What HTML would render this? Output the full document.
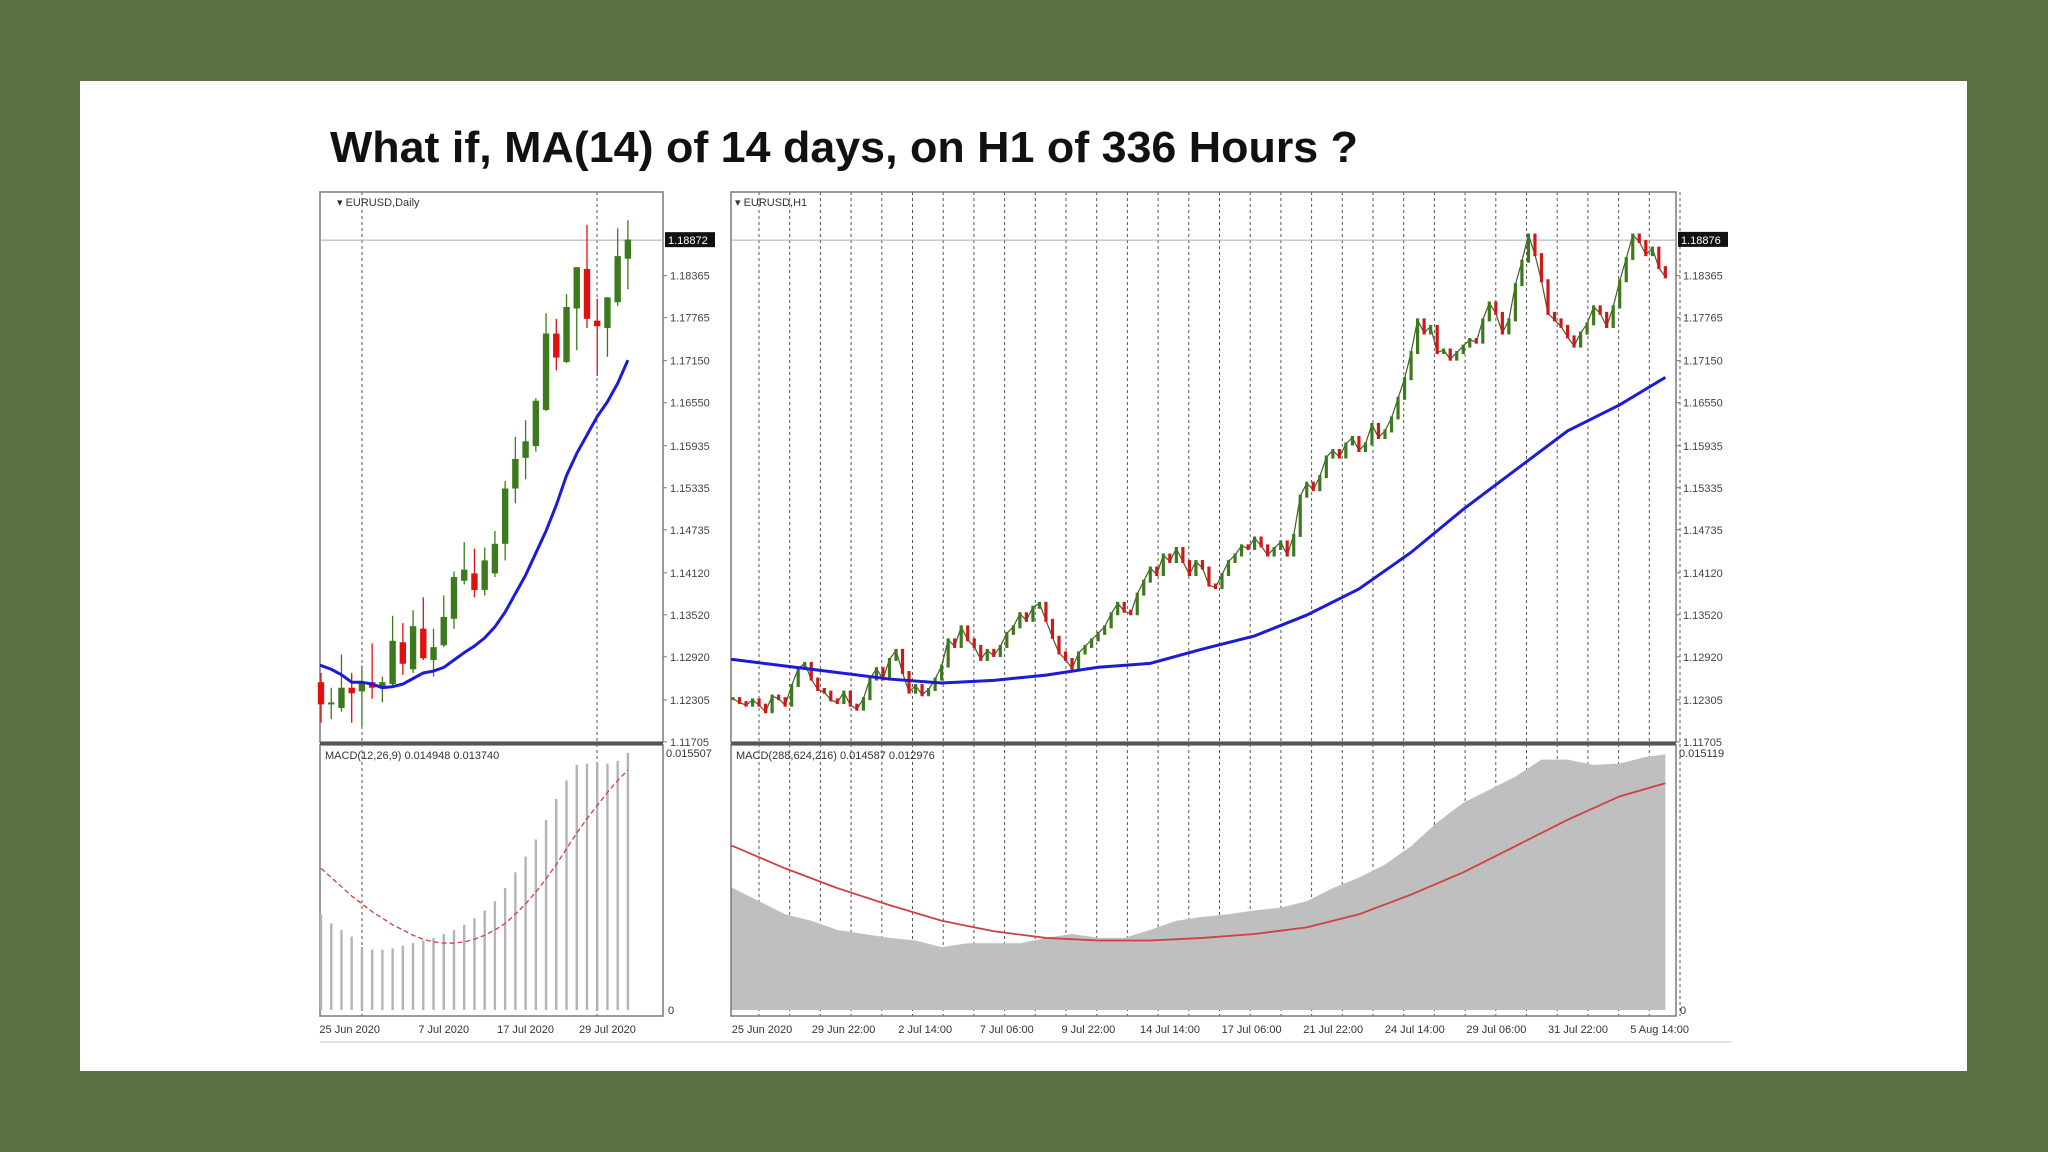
<!DOCTYPE html>
<html><head><meta charset="utf-8"><style>
html,body{margin:0;padding:0;background:#5b7141;}
svg{display:block;font-family:"Liberation Sans",sans-serif;}
</style></head><body>
<svg width="2048" height="1152" viewBox="0 0 2048 1152">
<rect x="0" y="0" width="2048" height="1152" fill="#5b7141"/>
<rect x="80" y="81" width="1887" height="990" fill="#ffffff"/>
<text x="330" y="162" font-size="44" font-weight="bold" fill="#111" textLength="1028" lengthAdjust="spacingAndGlyphs">What if, MA(14) of 14 days, on H1 of 336 Hours ?</text>
<line x1="320" y1="1042" x2="1732" y2="1042" stroke="#e4e4e4" stroke-width="2"/>
<g id="root"></g>
</svg>
<script>
// ---------- DATA ----------
const priceTicks = [1.18365,1.17765,1.17150,1.16550,1.15935,1.15335,1.14735,1.14120,1.13520,1.12920,1.12305,1.11705];
const dailyOpen  = [1.12557,1.12241,1.12189,1.12478,1.12426,1.12557,1.12478,1.12531,1.13127,1.12742,1.13322,1.12874,1.13084,1.13464,1.14007,1.14112,1.13875,1.14112,1.14534,1.15324,1.15762,1.15930,1.16447,1.17538,1.17132,1.17896,1.18460,1.17722,1.17617,1.17986,1.18607];
const dailyHigh  = [1.12689,1.12478,1.12953,1.12689,1.12795,1.13111,1.12637,1.13506,1.13401,1.13585,1.13770,1.13322,1.13796,1.14138,1.14560,1.14465,1.14481,1.14718,1.15430,1.16062,1.16299,1.16615,1.17827,1.17748,1.18101,1.18486,1.19092,1.18038,1.18059,1.19040,1.19156];
const dailyLow   = [1.11978,1.12030,1.12136,1.11978,1.11925,1.12320,1.12268,1.12505,1.12663,1.12689,1.12874,1.12637,1.13058,1.13322,1.13954,1.13770,1.13796,1.14059,1.14297,1.15113,1.15456,1.15851,1.16431,1.17011,1.17116,1.17300,1.17617,1.16932,1.17206,1.17933,1.18170];
const dailyClose = [1.12241,1.12268,1.12478,1.12399,1.12557,1.12478,1.12557,1.13148,1.12821,1.13358,1.12900,1.13058,1.13490,1.14059,1.14165,1.13875,1.14297,1.14534,1.15324,1.15746,1.15999,1.16578,1.17538,1.17195,1.17917,1.18486,1.17748,1.17643,1.18054,1.18644,1.18881];
const dailyMA    = [1.12795,1.12742,1.12663,1.12557,1.12557,1.12531,1.12478,1.12494,1.12531,1.12610,1.12689,1.12716,1.12768,1.12874,1.12979,1.13074,1.13190,1.13348,1.13559,1.13822,1.14086,1.14402,1.14718,1.15087,1.15509,1.15825,1.16089,1.16352,1.16563,1.16826,1.17158];
const dailyHist  = [0.00578,0.00522,0.00483,0.00443,0.00380,0.00364,0.00364,0.00372,0.00388,0.00404,0.00419,0.00435,0.00459,0.00483,0.00514,0.00554,0.00601,0.00657,0.00736,0.00831,0.00926,0.01029,0.01147,0.01274,0.01385,0.01479,0.01487,0.01487,0.01487,0.01503,0.01551];
const dailySignal= [0.00855,0.00799,0.00744,0.00688,0.00641,0.00593,0.00554,0.00514,0.00483,0.00451,0.00427,0.00411,0.00404,0.00404,0.00411,0.00427,0.00451,0.00483,0.00522,0.00578,0.00641,0.00712,0.00791,0.00878,0.00973,0.01068,0.01155,0.01234,0.01313,0.01385,0.01448];
const dailyDates = ["25 Jun 2020","7 Jul 2020","17 Jul 2020","29 Jul 2020"];
const dailyDateIdx = [3,12,20,28];

const h1Close = [1.12322,1.12266,1.12229,1.12304,1.12229,1.12135,1.12359,1.12322,1.12229,1.12509,1.12751,1.12826,1.12602,1.12453,1.12415,1.12304,1.12266,1.12415,1.12229,1.12172,1.12322,
1.12602,1.12751,1.12602,1.12882,1.13012,1.12695,1.12415,1.12509,1.12378,1.12453,1.12602,1.12788,1.13162,1.13068,1.13348,1.13162,1.13068,1.12882,1.13012,1.12938,1.13068,1.13255,1.13348,1.13535,1.13441,1.13628,1.13684,1.13441,1.13199,1.12975,1.12882,1.12751,1.12975,1.13068,1.13162,1.13255,1.13348,1.13535,1.13684,1.13572,1.13535,1.13815,1.14001,1.14188,1.14095,1.14374,1.14281,1.14468,1.14281,1.14095,1.14281,1.14188,1.13945,1.13908,1.14095,1.14281,1.14374,1.14505,1.14468,1.14617,1.14505,1.14374,1.14468,1.14561,1.14374,1.14654,1.15214,1.15400,1.15307,1.15494,1.15774,1.15867,1.15774,1.15960,1.16053,1.15867,1.15960,1.16240,1.16053,1.16147,1.16333,1.16613,1.16893,1.17266,1.17733,1.17546,1.17639,1.17266,1.17303,1.17172,1.17266,1.17359,1.17452,1.17415,1.17733,1.17975,1.17826,1.17546,1.17733,1.18236,1.18572,1.18945,1.18665,1.18292,1.17826,1.17733,1.17639,1.17490,1.17359,1.17546,1.17677,1.17919,1.17826,1.17639,1.17919,1.18292,1.18609,1.18945,1.18852,1.18665,1.18758,1.18479,1.18348];
const h1MA = [1.12882,1.12788,1.12695,1.12602,1.12546,1.12583,1.12658,1.12770,1.12826,1.13031,1.13218,1.13516,1.13889,1.14412,1.15027,1.15587,1.16147,1.16520,1.16912];
const h1MAStep = 8;
const h1Macd = [0.00717,0.00640,0.00563,0.00525,0.00471,0.00447,0.00424,0.00409,0.00370,0.00393,0.00393,0.00393,0.00424,0.00447,0.00424,0.00424,0.00471,0.00525,0.00548,0.00563,0.00586,0.00602,0.00640,0.00717,0.00779,0.00856,0.00964,0.01103,0.01219,0.01296,0.01373,0.01473,0.01473,0.01442,0.01450,0.01489,0.01504];
const h1MacdStep = 4;
const h1Signal = [0.00964,0.00833,0.00717,0.00617,0.00525,0.00463,0.00424,0.00409,0.00409,0.00424,0.00447,0.00486,0.00563,0.00679,0.00810,0.00964,0.01119,0.01257,0.01334];
const h1SignalStep = 8;
const h1Dates = ["25 Jun 2020","29 Jun 22:00","2 Jul 14:00","7 Jul 06:00","9 Jul 22:00","14 Jul 14:00","17 Jul 06:00","21 Jul 22:00","24 Jul 14:00","29 Jul 06:00","31 Jul 22:00","5 Aug 14:00"];

// ---------- GEOMETRY ----------
const NS="http://www.w3.org/2000/svg";
const root=document.getElementById('root');
function mk(tag,attrs,parent){const e=document.createElementNS(NS,tag);for(const k in attrs)e.setAttribute(k,attrs[k]);(parent||root).appendChild(e);return e;}
const TOP=192, BOT=742, MTOP=745, MBOT=1016, ZERO=1010, MMAXY=753;
function yP(p){return TOP+(1.1956-p)*7000;}
function yML(v){return ZERO-v/0.015507*(ZERO-MMAXY);}
function yMR(v){return ZERO-v/0.015119*(ZERO-MMAXY);}
const L={x0:320,x1:663}, R={x0:731,x1:1676};
function xD(i){return 321+i*10.23;}
function xH(i){return 733+i*6.52;}

function frame(g,P,name){
  let r=mk('rect',{x:P.x0,y:TOP,width:P.x1-P.x0,height:BOT-TOP,fill:'none',stroke:'#7a7a7a','stroke-width':1.5},g);
  
  let r2=mk('rect',{x:P.x0,y:MTOP,width:P.x1-P.x0,height:MBOT-MTOP,fill:'none',stroke:'#7a7a7a','stroke-width':1.5},g);
  
  let s=mk('line',{x1:P.x0,y1:BOT+1.5,x2:P.x1,y2:BOT+1.5,stroke:'#555','stroke-width':3},g);
  
  let h=mk('line',{x1:P.x0,y1:yP(1.18872),x2:P.x1,y2:yP(1.18872),stroke:'#aaa','stroke-width':1},g);
  
  priceTicks.forEach(p=>{
    let t=mk('text',{x:P.x1+7,y:yP(p)+4,'font-size':11,fill:'#444'},g);t.textContent=p.toFixed(5);
    
    let tk=mk('line',{x1:P.x1,y1:yP(p),x2:P.x1+4,y2:yP(p),stroke:'#777'},g);
    
  });
}
function vgrid(g,xs,name){
  xs.forEach(x=>{
    let l=mk('line',{x1:x,y1:TOP,x2:x,y2:MBOT,stroke:'#555','stroke-width':1,'stroke-dasharray':'3,3'},g);
    
  });
}
function label(g,x,y,txt,name,size,anchor){
  let t=mk('text',{x:x,y:y,'font-size':size||11,fill:'#333','text-anchor':anchor||'start'},g);t.textContent=txt;
  return t;
}

// ---------- LEFT DAILY CHART ----------
const gL=mk('g',{});


vgrid(gL,[362,597],'daily');
frame(gL,L,'daily');
dailyClose.forEach((c,i)=>{
  const o=dailyOpen[i],up=c>=o,col=up?'#3d7a1e':'#e01010',x=xD(i);
  let w=mk('line',{x1:x,y1:yP(dailyHigh[i]),x2:x,y2:yP(dailyLow[i]),stroke:col,'stroke-width':1.3},gL);
  
  const yt=yP(Math.max(o,c)),yb=yP(Math.min(o,c));
  let b=mk('rect',{x:x-3.2,y:yt,width:6.4,height:Math.max(2,yb-yt),fill:col},gL);
  
});
let pts=dailyMA.map((v,i)=>xD(i)+','+yP(v));pts.unshift(L.x0+','+yP(dailyMA[0]));
let ma=mk('polyline',{points:pts.join(' '),fill:'none',stroke:'#1b1bd8','stroke-width':3},gL);

dailyHist.forEach((v,i)=>{
  let b=mk('rect',{x:xD(i)-1.2,y:yML(v),width:2.4,height:ZERO-yML(v),fill:'#b4b4b4'},gL);
  
});
let sg=mk('polyline',{points:dailySignal.map((v,i)=>xD(i)+','+yML(v)).join(' '),fill:'none',stroke:'#d04040','stroke-width':1.3,'stroke-dasharray':'5,3'},gL);

label(gL,337,206,'▾ EURUSD,Daily','daily-symbol-label',11);
label(gL,325,759,'MACD(12,26,9) 0.014948 0.013740','daily-macd-label',11);
label(gL,666,757,'0.015507','daily-macd-max-label',11);
label(gL,668,1014,'0','daily-macd-zero-label',11);
let bx=mk('rect',{x:665,y:yP(1.18872)-8,width:50,height:15,fill:'#111'},gL);

let bt=label(gL,668,yP(1.18872)+4,'1.18872','daily-bid-price',11);bt.setAttribute('fill','#fff');
dailyDates.forEach((d,k)=>{label(gL,xD(dailyDateIdx[k])+ (k==0?-2:0),1033,d,'daily-date-label',11,'middle');});

// ---------- RIGHT H1 CHART ----------
const gR=mk('g',{});


const gx=[];for(let k=0;k<31;k++)gx.push(759+k*30.7);
vgrid(gR,gx,'h1');
let ap=h1Macd.map((v,i)=>xH(Math.min(i*h1MacdStep,h1Close.length-1))+','+yMR(v));
ap.unshift(R.x0+','+yMR(h1Macd[0]));ap.unshift(R.x0+','+ZERO);
ap.push(xH(h1Close.length-1)+','+ZERO);
let area=mk('polygon',{points:ap.join(' '),fill:'#bfbfbf'},gR);

frame(gR,R,'h1');
let cl=mk('polyline',{points:h1Close.map((c,i)=>xH(i)+','+yP(c)).join(' '),fill:'none',stroke:'#4a5a2a','stroke-width':1.2},gR);

h1Close.forEach((c,i)=>{
  const o=i?h1Close[i-1]:c,up=c>=o,col=up?'#3d7a1e':'#d01818',x=xH(i);
  const yt=yP(Math.max(o,c))-1.5,yb=yP(Math.min(o,c))+1.5;
  let b=mk('rect',{x:x-1.6,y:yt,width:3.2,height:yb-yt,fill:col},gR);
  
});
let mp=h1MA.map((v,i)=>xH(Math.min(i*h1MAStep,h1Close.length-1))+','+yP(v));mp.unshift(R.x0+','+yP(h1MA[0]));
let ma2=mk('polyline',{points:mp.join(' '),fill:'none',stroke:'#1b1bd8','stroke-width':3},gR);

let sp=h1Signal.map((v,i)=>xH(Math.min(i*h1SignalStep,h1Close.length-1))+','+yMR(v));sp.unshift(R.x0+','+yMR(h1Signal[0]));
let sg2=mk('polyline',{points:sp.join(' '),fill:'none',stroke:'#d04040','stroke-width':1.8},gR);

label(gR,735,206,'▾ EURUSD,H1','h1-symbol-label',11);
label(gR,736,759,'MACD(288,624,216) 0.014587 0.012976','h1-macd-label',11);
label(gR,1679,757,'0.015119','h1-macd-max-label',11);
label(gR,1680,1014,'0','h1-macd-zero-label',11);
let bx2=mk('rect',{x:1678,y:yP(1.18876)-8,width:50,height:15,fill:'#111'},gR);

let bt2=label(gR,1681,yP(1.18876)+4,'1.18876','h1-bid-price',11);bt2.setAttribute('fill','#fff');
h1Dates.forEach((d,k)=>{label(gR,762+k*81.6,1033,d,'h1-date-label',11,'middle');});
</script>
</body></html>
